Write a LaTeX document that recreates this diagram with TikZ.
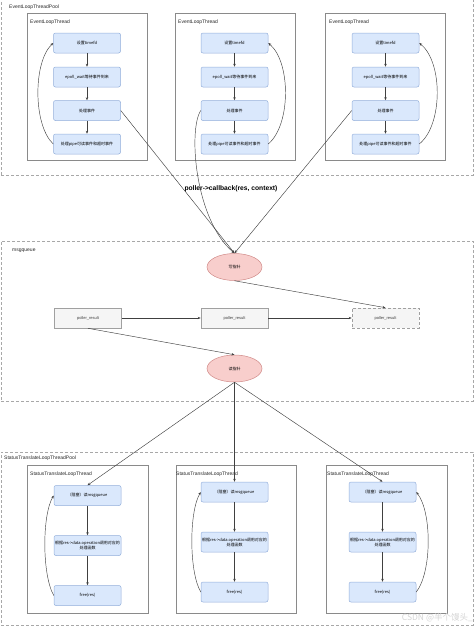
\documentclass[tikz,border=0pt]{standalone}
\usepackage{fontspec}
\setmainfont{Liberation Sans}
\newfontfamily\cjk{Noto Sans CJK SC}
\usetikzlibrary{arrows.meta,shapes.geometric}
\definecolor{boxfill}{HTML}{DAE8FC}
\definecolor{boxline}{HTML}{93AEDA}
\definecolor{ellfill}{HTML}{F8CECC}
\definecolor{ellline}{HTML}{D08A88}
\definecolor{resfill}{HTML}{F5F5F5}
\definecolor{resline}{HTML}{A0A0A0}
\definecolor{poolline}{HTML}{A8A8A8}
\definecolor{thrline}{HTML}{8A8A8A}
\definecolor{wmgray}{HTML}{D4D4D4}
\begin{document}
\begin{tikzpicture}[x=1pt,y=-1pt,
  pool/.style={draw=poolline, dash pattern=on 3pt off 2pt, line width=0.9pt, minimum width=472pt, inner sep=0pt},
  thread/.style={draw=thrline, line width=0.7pt, minimum width=120pt, minimum height=147pt, inner sep=0pt},
  stepbox/.style={draw=boxline, fill=boxfill, rounded corners=2pt, minimum width=67pt, minimum height=20pt, font=\cjk\fontsize{4}{5}\selectfont, inner sep=1pt, align=center, line width=0.5pt},
  resbox/.style={draw=resline, fill=resfill, minimum width=67pt, minimum height=20pt, font=\fontsize{4}{5}\selectfont, inner sep=1pt, line width=0.6pt, text=black!75},
  ell/.style={ellipse, draw=ellline, fill=ellfill, minimum width=55pt, minimum height=27pt, inner sep=0pt, font=\cjk\fontsize{4}{5}\selectfont, line width=0.5pt},
  lbl/.style={anchor=west, font=\fontsize{5}{6}\selectfont, inner sep=0pt, text=black!85},
  arr/.style={-{Stealth[length=3pt,width=2.4pt]}, line width=0.45pt, draw=black!75}]
\useasboundingbox (0,0) rectangle (474,627);

% pools
\node[pool, minimum height=182pt] (p1) at (237,84) {};
\node[pool, minimum height=160pt] (p2) at (237,321) {};
\node[pool, minimum height=173pt] (p3) at (237,538.5) {};
\node[lbl] (p1l) at (9,7) {EventLoopThreadPool};
\node[lbl] (p2l) at (12,251) {msgqueue};
\node[lbl] (p3l) at (4,458) {StatusTranslateLoopThreadPool};

% top threads
\node[thread] (t1) at (87,86.5) {};
\node[thread] (t2) at (235,86.5) {};
\node[thread] (t3) at (385.5,86.5) {};
\node[lbl] (t1l) at (30,22) {EventLoopThread};
\node[lbl] (t2l) at (178,22) {EventLoopThread};
\node[lbl] (t3l) at (329,22) {EventLoopThread};

\foreach \n/\x in {a/87,b/234.5,c/385.5}{
  \node[stepbox] (\n1) at (\x,43) {设置timefd};
  \node[stepbox] (\n2) at (\x,77) {epoll\_wait等待事件到来};
  \node[stepbox] (\n3) at (\x,110.5) {处理事件};
  \node[stepbox] (\n4) at (\x,144) {处理pipe可读事件和超时事件};
  \draw[arr] (\n1) -- (\n2);
  \draw[arr] (\n2) -- (\n3);
  \draw[arr] (\n3) -- (\n4);
}
\draw[arr] (a4.west) .. controls (33,125) and (33,62) .. (a1.west);
\draw[arr] (b4.east) .. controls (291,125) and (291,62) .. (b1.east);
\draw[arr] (c4.east) .. controls (443,125) and (443,62) .. (c1.east);

% msgqueue
\node[ell] (e1) at (234.5,267) {写指针};
\node[ell] (e2) at (234.5,368.5) {读指针};
\node[resbox] (r1) at (88,318) {poller\_result};
\node[resbox] (r2) at (234.5,318) {poller\_result};
\node[resbox, dash pattern=on 3pt off 2pt] (r3) at (385.5,318) {poller\_result};

\draw[arr] (a3.east) -- (e1.north);
\draw[arr] (c3.west) -- (e1.north);
\draw[arr] (b3.west) .. controls (188,130) and (195,220) .. (e1.north);
\node[font=\bfseries\fontsize{6.7}{8}\selectfont, inner sep=0pt] (cb) at (231,189) {poller->callback(res, context)};

\draw[arr] (e1.south) -- (r3.north);
\draw[arr] (r1.east) -- (r2.west);
\draw[arr] (r2.east) -- (r3.west);
\draw[arr] (r1.south) -- (e2.north);

% bottom threads
\node[thread, minimum width=121pt, minimum height=148pt] (s1) at (87.5,539) {};
\node[thread, minimum height=148pt] (s2) at (236,539) {};
\node[thread, minimum width=121pt, minimum height=148pt] (s3) at (386.5,539) {};
\node[lbl] (s1l) at (30,474) {StatusTranslateLoopThread};
\node[lbl] (s2l) at (176,474) {StatusTranslateLoopThread};
\node[lbl] (s3l) at (327,474) {StatusTranslateLoopThread};

\foreach \n/\x/\y in {q/87.5/495.5,m/234.5/492,n/382.5/492}{
  \node[stepbox] (\n1) at (\x,\y) {（阻塞）读msgqueue};
  \node[stepbox] (\n2) at (\x,\y+50) {根据res->data.operation调用对应的\\处理函数};
  \node[stepbox] (\n3) at (\x,\y+100) {free(res)};
  \draw[arr] (\n1) -- (\n2);
  \draw[arr] (\n2) -- (\n3);
}
\draw[arr] (q3.west) .. controls (42,575) and (42,515) .. (q1.west);
\draw[arr] (m3.west) .. controls (189,572) and (189,512) .. (m1.west);
\draw[arr] (n3.east) .. controls (432,572) and (432,512) .. (n1.east);

\draw[arr] (e2.south) -- (q1.north);
\draw[arr] (e2.south) -- (m1.north);
\draw[arr] (e2.south) -- (n1.north);

\node[anchor=east, inner sep=0pt, text=wmgray, font=\cjk\fontsize{8.5}{10}\selectfont] (wm) at (473,618) {CSDN @半个馒头\_};
\end{tikzpicture}
\end{document}
